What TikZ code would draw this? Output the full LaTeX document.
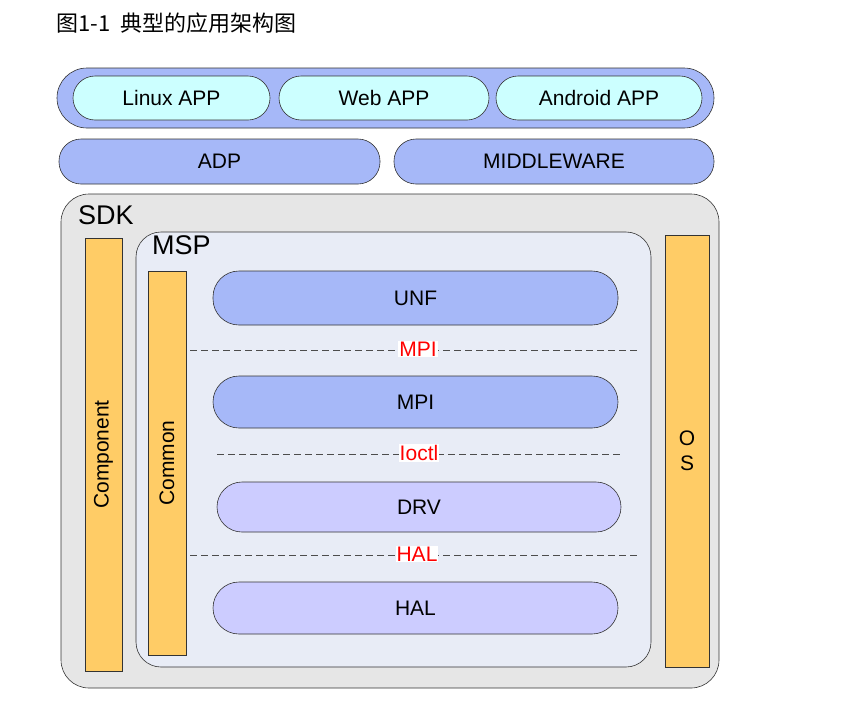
\documentclass[tikz,border=0pt]{standalone}
\usepackage{fontspec}
\setmainfont{Liberation Sans}
\newfontfamily\cjk{Noto Sans CJK SC}
\begin{document}
\begin{tikzpicture}[x=1pt,y=-1pt,
  pill/.style={draw=black!80,line width=0.6pt,rounded corners=#1},
  lbl/.style={font=\fontsize{21}{25}\selectfont},
  bar/.style={draw=black!80,fill=og,line width=0.6pt},
  dl/.style={dash pattern=on 7pt off 4pt,black!70,line width=0.6pt},
  red/.style={text=red,fill=white,inner sep=1pt,font=\fontsize{21}{25}\selectfont}]
\definecolor{bl}{HTML}{A6B8F8}\definecolor{cy}{HTML}{CCFFFF}
\definecolor{pu}{HTML}{CCCCFF}\definecolor{gr}{HTML}{E6E6E6}
\definecolor{ms}{HTML}{E8ECF6}\definecolor{og}{HTML}{FFCC66}
\useasboundingbox (0,0) rectangle (845,723);
\node[anchor=west,font=\cjk\fontsize{22}{26}\selectfont,inner sep=0] (t) at (56,23) {图1-1\ \ 典型的应用架构图};
\draw[pill=30,fill=bl] (57,68) rectangle (714,128);
\node[pill=22,fill=cy,minimum width=197,minimum height=44,lbl] (l) at (171.5,98) {Linux APP};
\node[pill=22,fill=cy,minimum width=210,minimum height=44,lbl] (w) at (384,98) {Web APP};
\node[pill=22,fill=cy,minimum width=206,minimum height=44,lbl] (a) at (599,98) {Android APP};
\node[pill=22,fill=bl,minimum width=321,minimum height=45,lbl] (adp) at (219.5,161.5) {ADP};
\node[pill=22,fill=bl,minimum width=320,minimum height=45,lbl] (mw) at (554,161.5) {MIDDLEWARE};
\draw[pill=28,fill=gr] (61,194) rectangle (719,688);
\node[anchor=north west,font=\fontsize{27}{30}\selectfont,inner sep=0] (sdk) at (78,205) {SDK};
\node[bar,minimum width=37,minimum height=433] (comp) at (103.5,454.5) {};
\node[rotate=90,lbl] at (comp) {Component};
\draw[pill=25,fill=ms] (136,232) rectangle (651,667);
\node[anchor=north west,font=\fontsize{27}{30}\selectfont,inner sep=0] (msp) at (152,235) {MSP};
\node[bar,minimum width=38,minimum height=384] (com) at (167,463) {};
\node[rotate=90,lbl] at (com) {Common};
\node[bar,minimum width=44,minimum height=432] (os) at (687,451) {};
\node[lbl,align=center] at (os) {O\\S};
\node[pill=26,fill=bl,minimum width=405,minimum height=54,lbl] (unf) at (415.5,298) {UNF};
\node[pill=26,fill=bl,minimum width=405,minimum height=52,lbl] (mpi) at (415.5,402) {MPI};
\node[pill=25,fill=pu,minimum width=404,minimum height=50,lbl] (drv) at (419,507) {DRV};
\node[pill=26,fill=pu,minimum width=405,minimum height=52,lbl] (hal) at (415.5,608) {HAL};
\coordinate (a1) at (190,350);\coordinate (a2) at (640,350);
\draw[dl] (a1) -- (a2); \node[red] at (418,349) {MPI};
\coordinate (b1) at (217,454);\coordinate (b2) at (621,454);
\draw[dl] (b1) -- (b2); \node[red] at (419,453) {Ioctl};
\coordinate (c1) at (190,555);\coordinate (c2) at (640,555);
\draw[dl] (c1) -- (c2); \node[red] at (417,554) {HAL};
\end{tikzpicture}
\end{document}
